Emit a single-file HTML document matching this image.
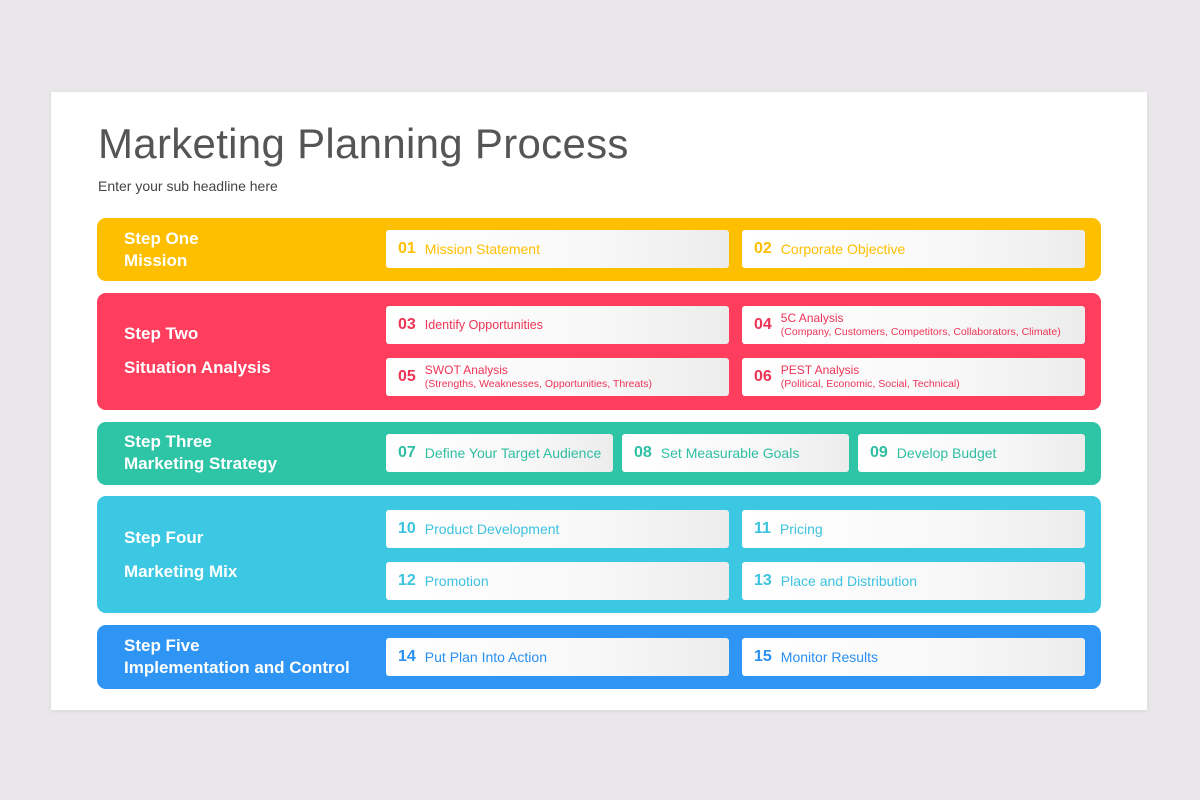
<!DOCTYPE html>
<html><head><meta charset="utf-8"><style>
body{margin:0;width:1200px;height:800px;background:#e9e7e9;font-family:"Liberation Sans",sans-serif;position:relative;overflow:hidden}
.card{position:absolute;left:51px;top:92px;width:1096px;height:618px;background:#fff;box-shadow:0 1px 4px rgba(0,0,0,.08)}
h1{position:absolute;left:98px;top:120px;margin:0;font-weight:normal;font-size:42px;color:#555;letter-spacing:0.3px}
.sub{position:absolute;left:98px;top:178px;font-size:14px;color:#444}
.band{position:absolute;left:97px;width:1004px;border-radius:9px}
.lab{position:absolute;left:124px;color:#fff;font-weight:bold;font-size:17px;line-height:22px}
.b{position:absolute;height:38px;border-radius:3px;background:linear-gradient(90deg,#fff 0%,#f8f8f8 60%,#ececec 100%);display:flex;align-items:center;box-sizing:border-box;padding-left:12px;font-size:14px}
.b .n{font-weight:bold;font-size:16px;margin-right:9px}
.b .t{line-height:13px;font-size:12px}
.b .t small{font-size:10.5px}
</style></head><body>
<div class="card"></div>
<h1>Marketing Planning Process</h1>
<div class="sub">Enter your sub headline here</div>

<div class="band" style="top:218px;height:63px;background:#fdbf00"></div>
<div class="lab" style="top:228px">Step One<br>Mission</div>
<div class="b" style="left:386px;top:230px;width:343px;color:#fdbf00"><span class="n">01</span>Mission Statement</div>
<div class="b" style="left:742px;top:230px;width:343px;color:#fdbf00"><span class="n">02</span>Corporate Objective</div>

<div class="band" style="top:293px;height:117px;background:#ff3d5d"></div>
<div class="lab" style="top:323px">Step Two</div>
<div class="lab" style="top:357px">Situation Analysis</div>
<div class="b" style="left:386px;top:306px;width:343px;color:#ee3456"><span class="n">03</span><span style="font-size:12.5px">Identify Opportunities</span></div>
<div class="b" style="left:742px;top:306px;width:343px;color:#ee3456"><span class="n">04</span><span class="t">5C Analysis<br><small>(Company, Customers, Competitors, Collaborators, Climate)</small></span></div>
<div class="b" style="left:386px;top:358px;width:343px;color:#ee3456"><span class="n">05</span><span class="t">SWOT Analysis<br><small>(Strengths, Weaknesses, Opportunities, Threats)</small></span></div>
<div class="b" style="left:742px;top:358px;width:343px;color:#ee3456"><span class="n">06</span><span class="t">PEST Analysis<br><small>(Political, Economic, Social, Technical)</small></span></div>

<div class="band" style="top:422px;height:63px;background:#2ec4a6"></div>
<div class="lab" style="top:431px">Step Three<br>Marketing Strategy</div>
<div class="b" style="left:386px;top:434px;width:227px;color:#2ebfa2"><span class="n">07</span>Define Your Target Audience</div>
<div class="b" style="left:622px;top:434px;width:227px;color:#2ebfa2"><span class="n">08</span>Set Measurable Goals</div>
<div class="b" style="left:858px;top:434px;width:227px;color:#2ebfa2"><span class="n">09</span>Develop Budget</div>

<div class="band" style="top:496px;height:117px;background:#3cc8e3"></div>
<div class="lab" style="top:527px">Step Four</div>
<div class="lab" style="top:561px">Marketing Mix</div>
<div class="b" style="left:386px;top:510px;width:343px;color:#3cc3df"><span class="n">10</span>Product Development</div>
<div class="b" style="left:742px;top:510px;width:343px;color:#3cc3df"><span class="n">11</span>Pricing</div>
<div class="b" style="left:386px;top:562px;width:343px;color:#3cc3df"><span class="n">12</span>Promotion</div>
<div class="b" style="left:742px;top:562px;width:343px;color:#3cc3df"><span class="n">13</span>Place and Distribution</div>

<div class="band" style="top:625px;height:64px;background:#2f95f5"></div>
<div class="lab" style="top:635px">Step Five<br>Implementation and Control</div>
<div class="b" style="left:386px;top:638px;width:343px;color:#2a8ff0"><span class="n">14</span>Put Plan Into Action</div>
<div class="b" style="left:742px;top:638px;width:343px;color:#2a8ff0"><span class="n">15</span>Monitor Results</div>
</body></html>
